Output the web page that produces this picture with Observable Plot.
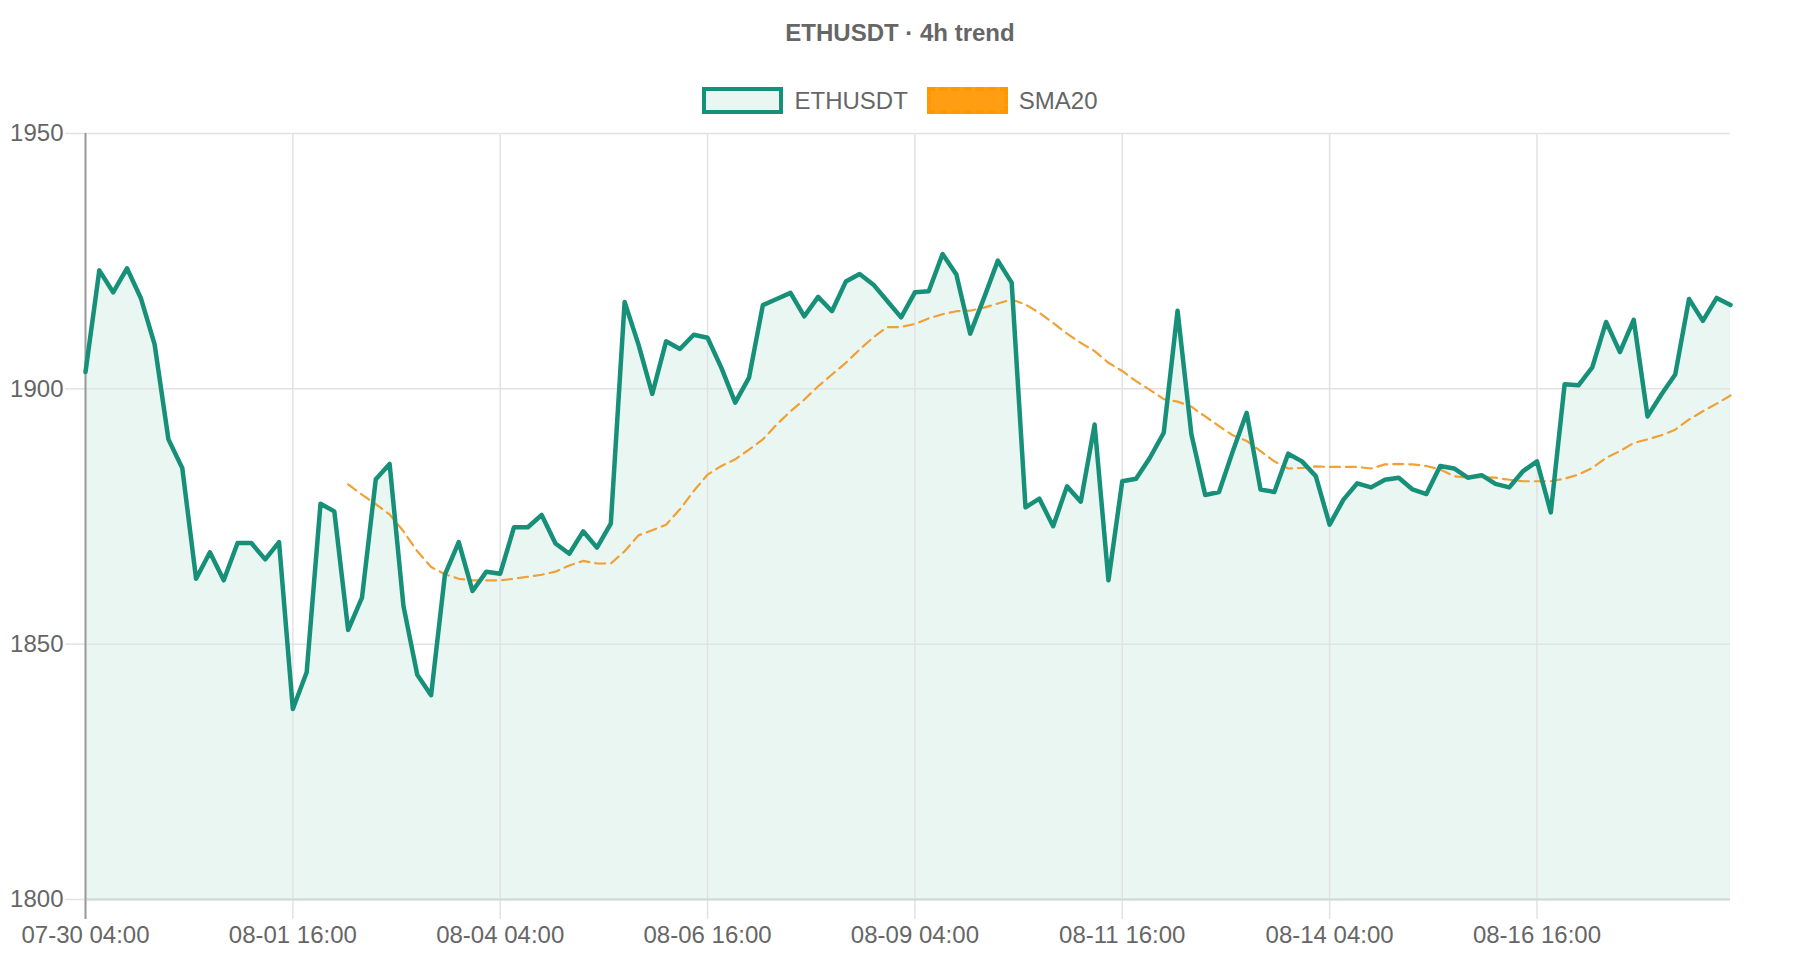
<!DOCTYPE html>
<html>
<head>
<meta charset="utf-8">
<script src="https://cdn.jsdelivr.net/npm/d3@7"></script>
<script src="https://cdn.jsdelivr.net/npm/@observablehq/plot@0.6"></script>
<style>
  html, body { margin: 0; padding: 0; background: #fff; }
  body { width: 1800px; height: 960px; overflow: hidden; font-family: "Liberation Sans", Arial, Helvetica, sans-serif; }
  #title { height: 66px; line-height: 66px; text-align: center; font-size: 24px; font-weight: bold; color: #666; }
  #legend { height: 64px; box-sizing: border-box; padding-top: 21px; display: flex; justify-content: center; align-items: flex-start; font-size: 24px; color: #666; }
  .item { display: flex; align-items: center; height: 27px; }
  .item + .item { margin-left: 19px; }
  .swatch { width: 81px; height: 27px; box-sizing: border-box; margin-right: 11px; }
  #chart svg { display: block; overflow: visible; }
</style>
</head>
<body>
<div id="title">ETHUSDT · 4h trend</div>
<div id="legend">
  <div class="item"><div class="swatch" style="border:4px solid #17907a;background:#e9f6f2;"></div><span>ETHUSDT</span></div>
  <div class="item"><div class="swatch" style="border:4px dashed #ff9800;background:#ff9e12;"></div><span>SMA20</span></div>
</div>
<div id="chart"></div>
<script>
const tickLabels = ["07-30 04:00", "08-01 16:00", "08-04 04:00", "08-06 16:00", "08-09 04:00", "08-11 16:00", "08-14 04:00", "08-16 16:00"];
const tickEvery = 15;
const yTicks = [1800, 1850, 1900, 1950];

const price = [
  1903.3, 1923.2, 1918.9, 1923.6, 1917.8, 1908.7, 1890.1, 1884.5, 1862.8, 1868.0,
  1862.5, 1869.8, 1869.8, 1866.6, 1870.0, 1837.3, 1844.5, 1877.5, 1876.0, 1852.8,
  1859.1, 1882.3, 1885.3, 1857.5, 1844.0, 1840.0, 1863.6, 1870.0, 1860.4, 1864.2,
  1863.8, 1872.9, 1872.9, 1875.3, 1869.7, 1867.7, 1872.1, 1868.9, 1873.6, 1917.0,
  1908.7, 1899.0, 1909.3, 1907.8, 1910.6, 1910.0, 1904.1, 1897.3, 1902.2, 1916.4,
  1917.6, 1918.8, 1914.2, 1918.0, 1915.2, 1921.0, 1922.5, 1920.4, 1917.2, 1914.0,
  1918.9, 1919.1, 1926.4, 1922.4, 1910.8, 1917.8, 1925.1, 1920.8, 1876.8, 1878.5,
  1873.1, 1880.9, 1877.9, 1893.0, 1862.5, 1881.9, 1882.4, 1886.5, 1891.4, 1915.3,
  1891.1, 1879.2, 1879.8, 1887.8, 1895.3, 1880.3, 1879.8, 1887.3, 1885.8, 1882.9,
  1873.4, 1878.3, 1881.5, 1880.7, 1882.2, 1882.6, 1880.3, 1879.4, 1884.9, 1884.4,
  1882.6, 1883.1, 1881.4, 1880.7, 1883.9, 1885.8, 1875.8, 1900.9, 1900.7, 1904.2,
  1913.1, 1907.2, 1913.5, 1894.6, 1898.9, 1902.8, 1917.6, 1913.3, 1917.8, 1916.4
];

const sma20 = [
  null, null, null, null, null, null, null, null, null, null,
  null, null, null, null, null, null, null, null, null, 1881.3,
  1879.3, 1877.4, 1875.4, 1872.1, 1868.2, 1865.1, 1863.7, 1862.8, 1862.5, 1862.5,
  1862.5, 1862.8, 1863.2, 1863.6, 1864.2, 1865.4, 1866.3, 1865.8, 1865.8, 1868.2,
  1871.3, 1872.3, 1873.4, 1876.4, 1880.0, 1883.2, 1884.9, 1886.2, 1888.1, 1890.1,
  1893.0, 1895.6, 1897.9, 1900.5, 1902.8, 1905.1, 1907.7, 1910.1, 1912.1, 1912.1,
  1912.7, 1913.8, 1914.6, 1915.2, 1915.3, 1915.9, 1916.7, 1917.5, 1916.5, 1914.9,
  1912.9, 1910.8, 1909.0, 1907.4, 1905.1, 1903.5, 1901.5, 1899.8, 1898.0, 1897.5,
  1896.5, 1894.6, 1892.7, 1890.9, 1889.8, 1887.8, 1885.8, 1884.4, 1884.5, 1884.8,
  1884.7, 1884.7, 1884.7, 1884.4, 1885.2, 1885.3, 1885.2, 1884.9, 1884.2, 1882.9,
  1882.6, 1882.7, 1882.6, 1882.2, 1881.9, 1881.9, 1881.9, 1882.4, 1883.2, 1884.5,
  1886.5, 1887.8, 1889.4, 1890.1, 1890.9, 1892.0, 1894.0, 1895.6, 1897.1, 1898.7
];

const rows = price.map((p, i) => ({i, price: p, sma: sma20[i]}));
const smaRows = rows.filter(d => d.sma != null);
const xTicks = tickLabels.map((_, k) => k * tickEvery);

const gridColor = "#e2e2e2";

const chart = Plot.plot({
  width: 1800,
  height: 830,
  marginTop: 3,
  marginBottom: 61,
  marginLeft: 85,
  marginRight: 70,
  style: {fontFamily: "'Liberation Sans', Arial, Helvetica, sans-serif", overflow: "visible", background: "#fff"},
  x: {type: "linear", domain: [0, price.length - 1]},
  y: {domain: [1800, 1950]},
  marks: [
    Plot.areaY(rows, {x: "i", y1: 1800, y2: "price", fill: "#e9f6f2"}),
    Plot.gridY(yTicks, {stroke: gridColor, strokeOpacity: 1, strokeWidth: 1.5}),
    Plot.gridX(xTicks, {stroke: gridColor, strokeOpacity: 1, strokeWidth: 1.5}),
    Plot.axisY(yTicks, {tickSize: 20, tickPadding: 2, tickFormat: d => String(d), stroke: gridColor, strokeWidth: 1.5, fill: "#666", fontSize: 24, label: null}),
    Plot.axisX(xTicks, {tickSize: 20, tickPadding: 6, tickFormat: v => tickLabels[v / tickEvery], stroke: gridColor, strokeWidth: 1.5, fill: "#666", fontSize: 24, label: null}),
    Plot.ruleY([1800], {stroke: "#cfd8d6", strokeWidth: 2}),
    Plot.ruleX([0], {stroke: "#9a9a9a", strokeWidth: 2, insetBottom: -20}),
    Plot.line(smaRows, {x: "i", y: "sma", stroke: "#f0a035", strokeWidth: 2.2, strokeDasharray: "10,6"}),
    Plot.line(rows, {x: "i", y: "price", stroke: "#17907a", strokeWidth: 4.5, strokeLinejoin: "round"})
  ]
});
document.getElementById("chart").appendChild(chart);
</script>
</body>
</html>
